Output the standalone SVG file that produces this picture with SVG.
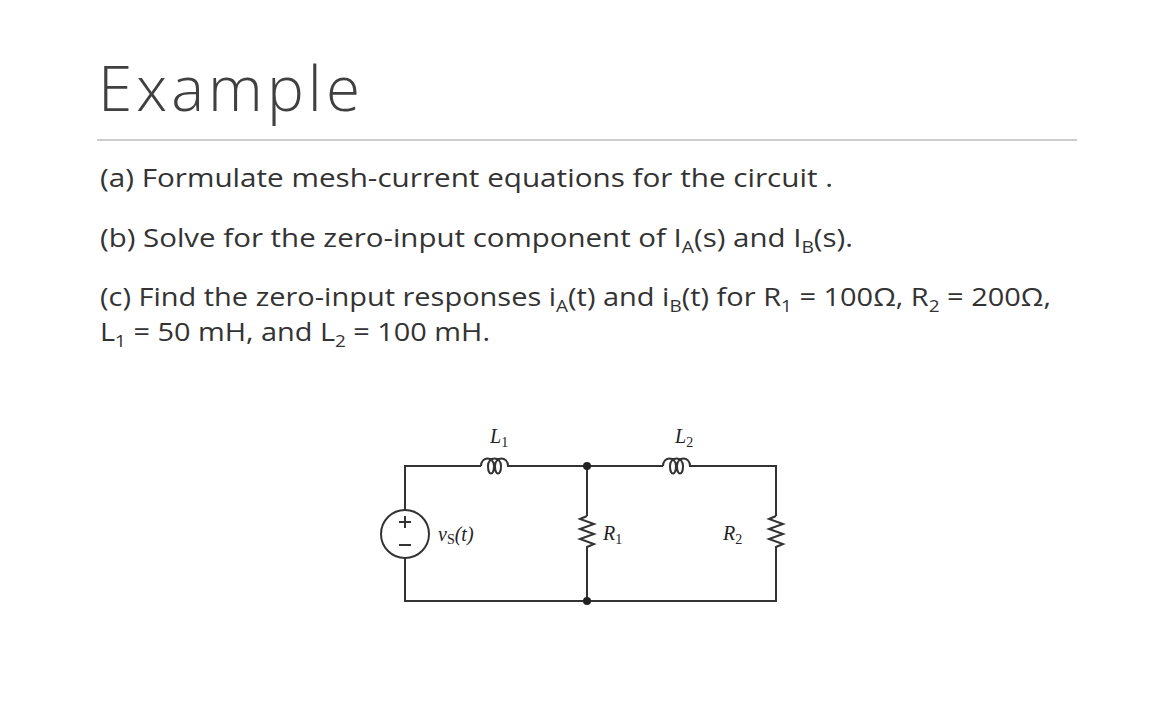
<svg xmlns="http://www.w3.org/2000/svg" width="1151" height="710" viewBox="0 0 1151 710">
<style>
.t{font-family:"Open Sans","Liberation Sans",sans-serif;font-size:26px;fill:#333}
.s{font-size:17px}
.w{fill:none;stroke:#333;stroke-width:2}
.c{font-family:"Liberation Serif",serif;font-style:italic;font-size:20px;fill:#222}
.cs{font-style:normal;font-size:14px}
</style>
<rect width="1151" height="710" fill="#fff"/>
<text x="98" y="111" font-family="Open Sans,Liberation Sans,sans-serif" font-weight="300" font-size="62" fill="#404040" textLength="262">Example</text>
<line x1="97" y1="140" x2="1077" y2="140" stroke="#bbb" stroke-width="1.5"/>
<text class="t" x="100" y="187" textLength="733" lengthAdjust="spacingAndGlyphs">(a) Formulate mesh-current equations for the circuit .</text>
<text class="t" x="100" y="247" textLength="753" lengthAdjust="spacingAndGlyphs">(b) Solve for the zero-input component of I<tspan class="s" dy="6">A</tspan><tspan dy="-6">(s) and I</tspan><tspan class="s" dy="6">B</tspan><tspan dy="-6">(s).</tspan></text>
<text class="t" x="100" y="306" textLength="951" lengthAdjust="spacingAndGlyphs">(c) Find the zero-input responses i<tspan class="s" dy="6">A</tspan><tspan dy="-6">(t) and i</tspan><tspan class="s" dy="6">B</tspan><tspan dy="-6">(t) for R</tspan><tspan class="s" dy="6">1</tspan><tspan dy="-6"> = 100Ω, R</tspan><tspan class="s" dy="6">2</tspan><tspan dy="-6"> = 200Ω,</tspan></text>
<text class="t" x="100" y="341" textLength="390" lengthAdjust="spacingAndGlyphs">L<tspan class="s" dy="6">1</tspan><tspan dy="-6"> = 50 mH, and L</tspan><tspan class="s" dy="6">2</tspan><tspan dy="-6"> = 100 mH.</tspan></text>
<g id="connectors">
<path class="w" d="M405 510 V466 H481 M520 466 H663 M703 466 H776 V516 M776 552 V601 H405 V558 M587 466 V516 M587 552 V601"/>
</g>
<g id="L1"><path class="w" d="M481 466 c0 -10 13 -10 13 0 c0 10 -6 10 -6 0 c0 -10 13 -10 13 0 c0 10 -6 10 -6 0 c0 -10 13 -10 13 0 c0 0 0 0 12 0"/><text class="c" x="490" y="443">L<tspan class="cs" dy="4">1</tspan></text></g>
<g id="L2"><path class="w" d="M663 466 c0 -10 13 -10 13 0 c0 10 -6 10 -6 0 c0 -10 13 -10 13 0 c0 10 -6 10 -6 0 c0 -10 13 -10 13 0 c0 0 0 0 13 0"/><text class="c" x="675" y="443">L<tspan class="cs" dy="4">2</tspan></text></g>
<g id="R1"><path class="w" d="M587 516 l-7 3 l14 5 l-14 5 l14 5 l-14 5 l14 5 l-7 3 v5"/><text class="c" x="603" y="540">R<tspan class="cs" dy="4">1</tspan></text></g>
<g id="R2"><path class="w" d="M776 516 l-7 3 l14 5 l-14 5 l14 5 l-14 5 l14 5 l-7 3 v5"/><text class="c" x="723" y="540">R<tspan class="cs" dy="4">2</tspan></text></g>
<g id="vs"><circle class="w" cx="405" cy="534" r="24"/><path class="w" d="M399 522 h12 M405 516 v12 M399 545 h12"/><text class="c" x="438" y="541">v<tspan class="cs" dy="3">S</tspan><tspan dy="-3">(t)</tspan></text></g>
<g id="nodes"><circle cx="587" cy="466" r="4" fill="#222"/><circle cx="587" cy="601" r="4" fill="#222"/></g>
</svg>
